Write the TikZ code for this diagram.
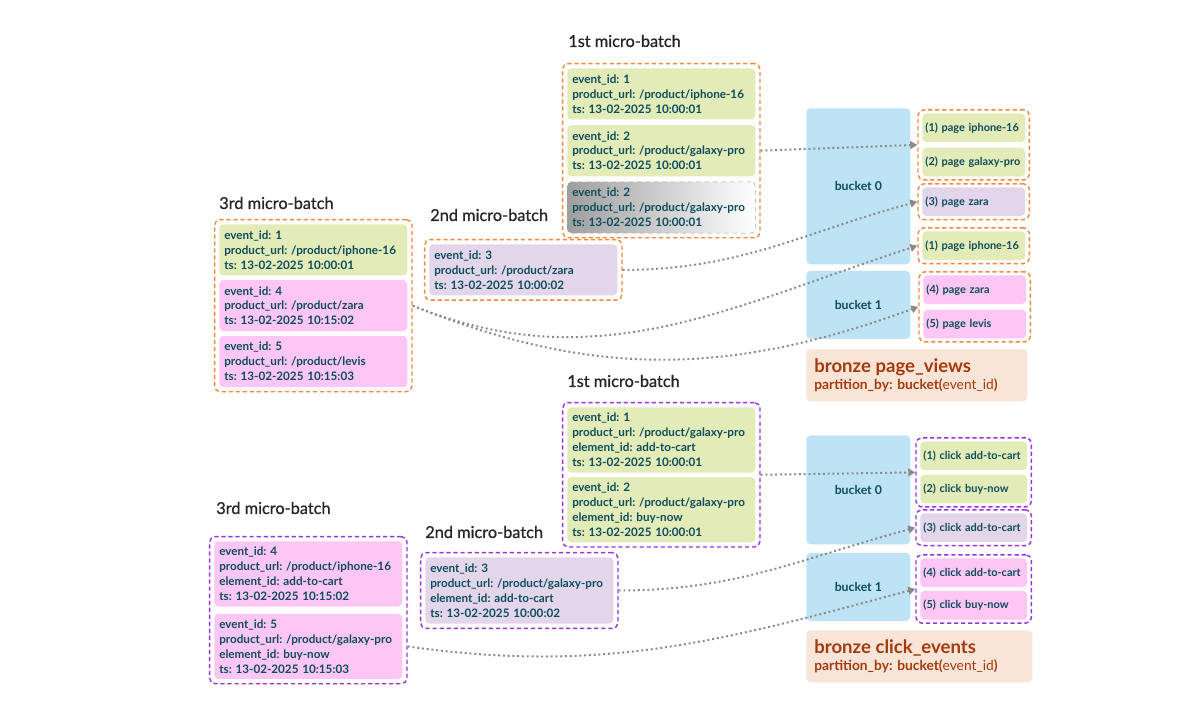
\documentclass[tikz,border=0pt]{standalone}
\usepackage{fontspec}
\setmainfont{Lato}
\newfontfamily\titlefont{Lato}[FakeBold=0.8]
\usepackage{tikz}
\usetikzlibrary{shapes,arrows.meta,positioning,fit,calc}
\frenchspacing

\definecolor{tealtxt}{HTML}{0D4C5C}
\definecolor{titlegray}{HTML}{262626}
\definecolor{evgreen}{HTML}{E3EBB8}
\definecolor{evpink}{HTML}{FDC6F4}
\definecolor{evlav}{HTML}{E3D6EB}
\definecolor{bucketblue}{HTML}{BEE3F4}
\definecolor{orangedash}{HTML}{F7873A}
\definecolor{purpledash}{HTML}{9B30E8}
\definecolor{peach}{HTML}{F9E4D8}
\definecolor{bronzetxt}{HTML}{A43A0C}
\definecolor{arrowgray}{HTML}{8A8A8A}

\begin{document}
\begin{tikzpicture}[
        x=0.025cm, y=-0.025cm,
        ev/.style={rectangle, rounded corners=3pt, text=tealtxt, font=\fontsize{8.3}{10.6}\selectfont\bfseries, align=left, text width=4.45cm, inner xsep=0.125cm, inner ysep=0pt, minimum height=1.28cm, anchor=north west},
        ev4/.style={ev, minimum height=1.63cm},
        title/.style={font=\titlefont\fontsize{11.6}{14}\selectfont, text=titlegray, anchor=west, inner sep=0pt},
        batch/.style={rectangle, rounded corners=4pt, line width=1pt, dash pattern=on 3pt off 2pt, inner sep=0.11cm},
        bucketbox/.style={rectangle, rounded corners=3pt, fill=bucketblue, text=tealtxt, font=\fontsize{8.7}{10}\selectfont\bfseries, minimum width=2.6cm, anchor=north west},
        res/.style={rectangle, rounded corners=3pt, text=tealtxt, font=\fontsize{7.8}{10}\selectfont\bfseries, align=left, text width=2.41cm, inner xsep=0.08cm, inner ysep=0pt, minimum height=0.72cm, anchor=north west},
        group/.style={rectangle, rounded corners=4pt, line width=1pt, dash pattern=on 3pt off 2pt, inner xsep=0.1cm, inner ysep=0.08cm},
        bronze/.style={rectangle, rounded corners=3pt, fill=peach, text=bronzetxt, align=left, anchor=north west, minimum height=1.3cm, inner xsep=0.2cm},
        flow/.style={-{Triangle[length=5pt,width=5.5pt]}, draw=arrowgray, line width=1.4pt, dash pattern=on 1.4pt off 2pt}
    ]
    \useasboundingbox (0,0) rectangle (1200,716);

    % page_views: 1st micro-batch
    \node[title] (pv-t1) at (568,41) {1st micro-batch};
    \node[ev, fill=evgreen] (pv-b1-e1) at (567,68) {event\_id: 1\\product\_url: /product/iphone-16\\ts: 13-02-2025 10:00:01};
    \node[ev, fill=evgreen, below=0.125cm of pv-b1-e1] (pv-b1-e2) {event\_id: 2\\product\_url: /product/galaxy-pro\\ts: 13-02-2025 10:00:01};
    \node[ev, left color=black!38, right color=white, draw=black!35, dashed, below=0.125cm of pv-b1-e2] (pv-b1-e3) {event\_id: 2\\product\_url: /product/galaxy-pro\\ts: 13-02-2025 10:00:01};
    \node[batch, draw=orangedash, fit=(pv-b1-e1)(pv-b1-e3)] (pv-b1) {};

    % page_views: 2nd micro-batch
    \node[title] (pv-t2) at (430,215) {2nd micro-batch};
    \node[ev, fill=evlav] (pv-b2-e3) at (429,244) {event\_id: 3\\product\_url: /product/zara\\ts: 13-02-2025 10:00:02};
    \node[batch, draw=orangedash, fit=(pv-b2-e3)] (pv-b2) {};

    % page_views: 3rd micro-batch
    \node[title] (pv-t3) at (219,203) {3rd micro-batch};
    \node[ev, fill=evgreen] (pv-b3-e1) at (219,224) {event\_id: 1\\product\_url: /product/iphone-16\\ts: 13-02-2025 10:00:01};
    \node[ev, fill=evpink, below=0.1cm of pv-b3-e1] (pv-b3-e4) {event\_id: 4\\product\_url: /product/zara\\ts: 13-02-2025 10:15:02};
    \node[ev, fill=evpink, below=0.1cm of pv-b3-e4] (pv-b3-e5) {event\_id: 5\\product\_url: /product/levis\\ts: 13-02-2025 10:15:03};
    \node[batch, draw=orangedash, fit=(pv-b3-e1)(pv-b3-e5)] (pv-b3) {};

    % page_views: buckets
    \node[bucketbox, minimum height=3.9cm] (pv-bucket0) at (806,108) {bucket 0};
    \node[bucketbox, minimum height=1.7cm, below=0.15cm of pv-bucket0] (pv-bucket1) {bucket 1};

    % page_views: files
    \node[res, fill=evgreen] (pv-r1) at (922,113) {(1) page iphone-16};
    \node[res, fill=evgreen, below=0.125cm of pv-r1] (pv-r2) {(2) page galaxy-pro};
    \node[group, draw=orangedash, fit=(pv-r1)(pv-r2)] (pv-gA) {};
    \node[res, fill=evlav] (pv-r3) at (922,187) {(3) page zara};
    \node[group, draw=orangedash, fit=(pv-r3)] (pv-gB) {};
    \node[res, fill=evgreen] (pv-r1b) at (922,231) {(1) page iphone-16};
    \node[group, draw=orangedash, fit=(pv-r1b)] (pv-gC) {};
    \node[res, fill=evpink] (pv-r4) at (923,275) {(4) page zara};
    \node[res, fill=evpink, below=0.125cm of pv-r4] (pv-r5) {(5) page levis};
    \node[group, draw=orangedash, fit=(pv-r4)(pv-r5)] (pv-gD) {};

    \node[bronze, minimum width=5.525cm, text width=5.125cm] (pv-table) at (806,349) {{\fontsize{13.2}{13}\selectfont\bfseries bronze page\_views}\\[0.5pt]{\fontsize{9.8}{10}\selectfont\bfseries partition\_by: bucket(\mdseries event\_id\bfseries)}};

    % click_events: 1st micro-batch
    \node[title] (ce-t1) at (567,381) {1st micro-batch};
    \node[ev4, fill=evgreen] (ce-b1-e1) at (567,407) {event\_id: 1\\product\_url: /product/galaxy-pro\\element\_id: add-to-cart\\ts: 13-02-2025 10:00:01};
    \node[ev4, fill=evgreen, below=0.1cm of ce-b1-e1] (ce-b1-e2) {event\_id: 2\\product\_url: /product/galaxy-pro\\element\_id: buy-now\\ts: 13-02-2025 10:00:01};
    \node[batch, draw=purpledash, fit=(ce-b1-e1)(ce-b1-e2)] (ce-b1) {};

    % click_events: 2nd micro-batch
    \node[title] (ce-t2) at (425,532) {2nd micro-batch};
    \node[ev4, fill=evlav, minimum height=1.66cm] (ce-b2-e3) at (425,557) {event\_id: 3\\product\_url: /product/galaxy-pro\\element\_id: add-to-cart\\ts: 13-02-2025 10:00:02};
    \node[batch, draw=purpledash, fit=(ce-b2-e3)] (ce-b2) {};

    % click_events: 3rd micro-batch
    \node[title] (ce-t3) at (216,508) {3rd micro-batch};
    \node[ev4, fill=evpink] (ce-b3-e4) at (214,541) {event\_id: 4\\product\_url: /product/iphone-16\\element\_id: add-to-cart\\ts: 13-02-2025 10:15:02};
    \node[ev4, fill=evpink, below=0.17cm of ce-b3-e4] (ce-b3-e5) {event\_id: 5\\product\_url: /product/galaxy-pro\\element\_id: buy-now\\ts: 13-02-2025 10:15:03};
    \node[batch, draw=purpledash, fit=(ce-b3-e4)(ce-b3-e5)] (ce-b3) {};

    % click_events: buckets
    \node[bucketbox, minimum height=2.725cm] (ce-bucket0) at (806,435) {bucket 0};
    \node[bucketbox, minimum height=1.7cm, below=0.2cm of ce-bucket0] (ce-bucket1) {bucket 1};

    % click_events: files
    \node[res, fill=evgreen, text width=2.51cm] (ce-r1) at (920,441) {(1) click add-to-cart};
    \node[res, fill=evgreen, text width=2.51cm, below=0.1cm of ce-r1] (ce-r2) {(2) click buy-now};
    \node[group, draw=purpledash, fit=(ce-r1)(ce-r2)] (ce-gA) {};
    \node[res, fill=evlav, text width=2.51cm] (ce-r3) at (920,513) {(3) click add-to-cart};
    \node[group, draw=purpledash, fit=(ce-r3)] (ce-gB) {};
    \node[res, fill=evpink, text width=2.51cm] (ce-r4) at (920,558) {(4) click add-to-cart};
    \node[res, fill=evpink, text width=2.51cm, below=0.08cm of ce-r4] (ce-r5) {(5) click buy-now};
    \node[group, draw=purpledash, fit=(ce-r4)(ce-r5)] (ce-gC) {};

    \node[bronze, minimum width=5.65cm, text width=5.25cm] (ce-table) at (806,630) {{\fontsize{13.2}{13}\selectfont\bfseries bronze click\_events}\\[0.5pt]{\fontsize{9.8}{10}\selectfont\bfseries partition\_by: bucket(\mdseries event\_id\bfseries)}};

    % Connections
    \draw[flow] (pv-b1.east |- pv-b1-e2.east) -- (pv-gA.west);
    \draw[flow] (pv-b2.east) to[out=0, in=195] (pv-gB.west);
    \draw[flow] (pv-b3.east) to[out=-22, in=198] (pv-gC.west);
    \draw[flow] (pv-b3.east) to[out=-22, in=200] (pv-gD.west);

    \draw[flow] (ce-b1.east) -- (ce-gA.west);
    \draw[flow] (ce-b2.east) to[out=0, in=195] (ce-gB.west);
    \draw[flow] (ce-b3.east |- ce-b3-e5.east) to[out=-8, in=195] (ce-gC.west);

\end{tikzpicture}
\end{document}
